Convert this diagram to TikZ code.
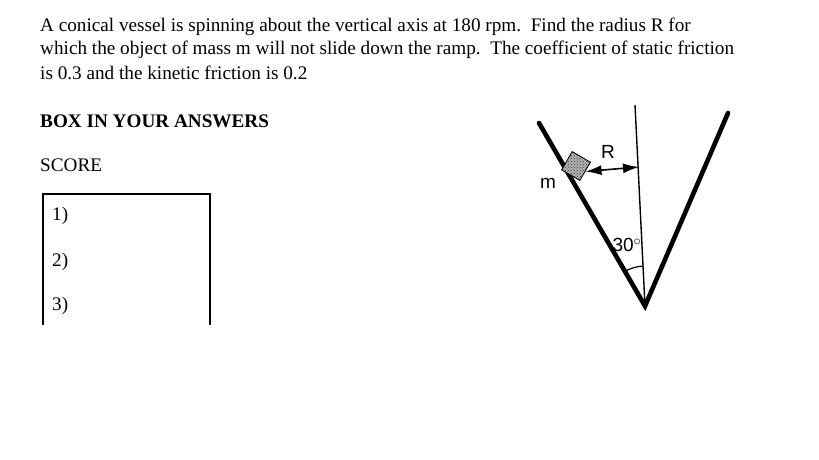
\documentclass[tikz,border=0pt]{standalone}
\usepackage{fontspec}
\setmainfont{Liberation Serif}
\newfontfamily\sansf{Liberation Sans}
\usetikzlibrary{arrows.meta,patterns,calc}
\begin{document}
\begin{tikzpicture}[x=1pt,y=-1pt,
  txt/.style={anchor=west,inner sep=0pt,font=\fontsize{19.2}{22}\selectfont},
  cone/.style={line width=4.6pt},
  lbl/.style={inner sep=0pt,font=\sansf\fontsize{19}{20}\selectfont}]
\useasboundingbox (0,0) rectangle (819,460);
\node[txt] (l1) at (40,27) {A conical vessel is spinning about the vertical axis at 180 rpm.\ \ Find the radius R for};
\node[txt] (l2) at (40,50) {which the object of mass m will not slide down the ramp.\ \ The coefficient of static friction};
\node[txt] (l3) at (40,73) {is 0.3 and the kinetic friction is 0.2};
\node[txt,font=\bfseries\fontsize{19.2}{22}\selectfont] (b) at (40,121) {BOX IN YOUR ANSWERS};
\node[txt] (s) at (40,165) {SCORE};
\draw[line width=1.3pt] (43,325) -- (43,194) -- (210,194) -- (210,325);
\node[txt] (a1) at (52,216) {1)};
\node[txt] (a2) at (52,262) {2)};
\node[txt] (a3) at (52,306) {3)};
% cone
\coordinate (v) at (645,306);
\coordinate (tl) at (539,123);
\coordinate (tr) at (728,113);
\coordinate (ax) at (635,105);
\draw[cone,line cap=round,line join=miter] (tl) -- (v) -- (tr);
\draw[line width=1.4pt] (ax) -- (v);
\draw[line width=1.2pt] ($(v)!40pt!(tl)$) arc[start angle=120,end angle=93,radius=40pt];
\node[lbl] (ang) at (627,245) {30$^{\circ}$};
% block
\node[draw,line width=0.9pt,fill=gray!60,minimum size=21pt,rotate=-30,inner sep=0pt] (blk) at (576,166) {};
\fill[pattern=crosshatch dots,pattern color=black!80,rotate around={-30:(576,166)}] (565.5,155.5) rectangle (586.5,176.5);
\coordinate (rp) at (639,167);
\draw[{Latex[length=16pt,width=10pt]}-{Latex[length=16pt,width=10pt]},line width=1.6pt] (blk.east) -- (rp);
\node[lbl] (R) at (608,152) {R};
\node[lbl] (m) at (548,183) {m};
\end{tikzpicture}
\end{document}
